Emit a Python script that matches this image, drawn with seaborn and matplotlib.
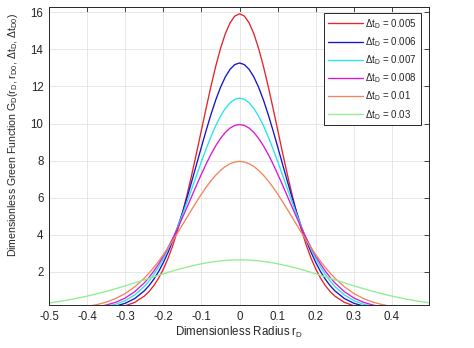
import numpy as np
import pandas as pd
import matplotlib
matplotlib.use("Agg")
import matplotlib.pyplot as plt
import seaborn as sns

# ---------------- data ----------------
r_D = [-0.5, -0.475, -0.45, -0.425, -0.4, -0.375, -0.35, -0.325, -0.3, -0.275,
       -0.25, -0.2375, -0.225, -0.2125, -0.2, -0.1875, -0.175, -0.1625, -0.15, -0.1375,
       -0.125, -0.1125, -0.1, -0.0875, -0.075, -0.0625, -0.05, -0.0375, -0.025, -0.0125,
       0.0,
       0.0125, 0.025, 0.0375, 0.05, 0.0625, 0.075, 0.0875, 0.1, 0.1125, 0.125,
       0.1375, 0.15, 0.1625, 0.175, 0.1875, 0.2, 0.2125, 0.225, 0.2375, 0.25,
       0.275, 0.3, 0.325, 0.35, 0.375, 0.4, 0.425, 0.45, 0.475, 0.5]

g_0005 = [0.0, 0.0, 0.0, 0.002, 0.005, 0.014, 0.035, 0.081, 0.177, 0.363,
          0.699, 0.948, 1.266, 1.664, 2.154, 2.744, 3.442, 4.250, 5.167, 6.184,
          7.286, 8.452, 9.653, 10.853, 12.013, 13.091, 14.045, 14.834, 15.425, 15.791,
          15.915,
          15.791, 15.425, 14.834, 14.045, 13.091, 12.013, 10.853, 9.653, 8.452, 7.286,
          6.184, 5.167, 4.250, 3.442, 2.744, 2.154, 1.664, 1.266, 0.948, 0.699,
          0.363, 0.177, 0.081, 0.035, 0.014, 0.005, 0.002, 0.0, 0.0, 0.0]

g_0006 = [0.0, 0.001, 0.003, 0.007, 0.017, 0.038, 0.081, 0.163, 0.312, 0.568,
          0.981, 1.265, 1.609, 2.021, 2.505, 3.065, 3.702, 4.414, 5.194, 6.033,
          6.917, 7.827, 8.744, 9.640, 10.492, 11.271, 11.951, 12.508, 12.922, 13.177,
          13.263,
          13.177, 12.922, 12.508, 11.951, 11.271, 10.492, 9.640, 8.744, 7.827, 6.917,
          6.033, 5.194, 4.414, 3.702, 3.065, 2.505, 2.021, 1.609, 1.265, 0.981,
          0.568, 0.312, 0.163, 0.081, 0.038, 0.017, 0.007, 0.003, 0.001, 0.0]

g_0007 = [0.002, 0.004, 0.008, 0.018, 0.038, 0.075, 0.143, 0.261, 0.457, 0.763,
          1.220, 1.516, 1.864, 2.266, 2.724, 3.239, 3.808, 4.427, 5.090, 5.787,
          6.506, 7.234, 7.954, 8.648, 9.299, 9.888, 10.397, 10.811, 11.117, 11.305,
          11.368,
          11.305, 11.117, 10.811, 10.397, 9.888, 9.299, 8.648, 7.954, 7.234, 6.506,
          5.787, 5.090, 4.427, 3.808, 3.239, 2.724, 2.266, 1.864, 1.516, 1.220,
          0.763, 0.457, 0.261, 0.143, 0.075, 0.038, 0.018, 0.008, 0.004, 0.002]

g_0008 = [0.004, 0.009, 0.018, 0.035, 0.067, 0.123, 0.216, 0.367, 0.597, 0.936,
          1.411, 1.707, 2.045, 2.426, 2.850, 3.316, 3.820, 4.358, 4.924, 5.509,
          6.104, 6.698, 7.277, 7.830, 8.344, 8.804, 9.199, 9.519, 9.755, 9.899,
          9.947,
          9.899, 9.755, 9.519, 9.199, 8.804, 8.344, 7.830, 7.277, 6.698, 6.104,
          5.509, 4.924, 4.358, 3.820, 3.316, 2.850, 2.426, 2.045, 1.707, 1.411,
          0.936, 0.597, 0.367, 0.216, 0.123, 0.067, 0.035, 0.018, 0.009, 0.004]

g_001 = [0.015, 0.028, 0.050, 0.087, 0.146, 0.237, 0.372, 0.568, 0.839, 1.202,
         1.668, 1.943, 2.245, 2.573, 2.928, 3.304, 3.701, 4.112, 4.534, 4.961,
         5.385, 5.799, 6.198, 6.572, 6.914, 7.218, 7.476, 7.683, 7.835, 7.927,
         7.958,
         7.927, 7.835, 7.683, 7.476, 7.218, 6.914, 6.572, 6.198, 5.799, 5.385,
         4.961, 4.534, 4.112, 3.701, 3.304, 2.928, 2.573, 2.245, 1.943, 1.668,
         1.202, 0.839, 0.568, 0.372, 0.237, 0.146, 0.087, 0.050, 0.028, 0.015]

g_003 = [0.330, 0.405, 0.491, 0.589, 0.699, 0.822, 0.956, 1.100, 1.253, 1.413,
         1.576, 1.658, 1.740, 1.821, 1.901, 1.979, 2.055, 2.129, 2.200, 2.266,
         2.329, 2.387, 2.441, 2.489, 2.532, 2.568, 2.598, 2.622, 2.639, 2.650,
         2.653,
         2.650, 2.639, 2.622, 2.598, 2.568, 2.532, 2.489, 2.441, 2.387, 2.329,
         2.266, 2.200, 2.129, 2.055, 1.979, 1.901, 1.821, 1.740, 1.658, 1.576,
         1.413, 1.253, 1.100, 0.956, 0.822, 0.699, 0.589, 0.491, 0.405, 0.330]

series_labels = [r"$\Delta\mathregular{t_D}$ = 0.005",
                 r"$\Delta\mathregular{t_D}$ = 0.006",
                 r"$\Delta\mathregular{t_D}$ = 0.007",
                 r"$\Delta\mathregular{t_D}$ = 0.008",
                 r"$\Delta\mathregular{t_D}$ = 0.01",
                 r"$\Delta\mathregular{t_D}$ = 0.03"]
series_values = [g_0005, g_0006, g_0007, g_0008, g_001, g_003]

x_ticks = [-0.5, -0.4, -0.3, -0.2, -0.1, 0.0, 0.1, 0.2, 0.3, 0.4]
x_tick_labels = ["-0.5", "-0.4", "-0.3", "-0.2", "-0.1", "0", "0.1", "0.2", "0.3", "0.4"]
y_ticks = [2, 4, 6, 8, 10, 12, 14, 16]

colors = ["#e8232a", "#1414c8", "#22e6ee", "#dc16dc", "#f5845a", "#90ee90"]

# ---------------- long table ----------------
rows = []
for lab, vals in zip(series_labels, series_values):
    for x, y in zip(r_D, vals):
        rows.append((lab, x, y))
df = pd.DataFrame(rows, columns=["series", "r", "G"])

# ---------------- style ----------------
sns.set_theme(style="white")
plt.rcParams["font.family"] = ["Liberation Sans", "DejaVu Sans"]
plt.rcParams["mathtext.fontset"] = "custom"
plt.rcParams["mathtext.rm"] = "Liberation Sans"
plt.rcParams["mathtext.it"] = "Liberation Sans:italic"
plt.rcParams["mathtext.bf"] = "Liberation Sans:bold"
plt.rcParams["axes.unicode_minus"] = False

fig = plt.figure(figsize=(4.74, 3.48), dpi=100)
ax = fig.add_axes([49 / 474, 1 - 305 / 348, (429 - 49) / 474, (305 - 7) / 348])
ax.set_facecolor("white")

sns.lineplot(data=df, x="r", y="G", hue="series", palette=colors,
             hue_order=series_labels, estimator=None, sort=False,
             linewidth=0.95, ax=ax, legend=True)

ax.set_xlim(-0.5, 0.497)
ax.set_ylim(0.22, 16.28)
ax.set_xticks(x_ticks)
ax.set_xticklabels(x_tick_labels)
ax.set_yticks(y_ticks)
ax.grid(True, color="#e3e3e3", linewidth=0.6)
ax.set_axisbelow(True)

for sp in ax.spines.values():
    sp.set_color("#262626")
    sp.set_linewidth(0.7)

ax.tick_params(axis="both", which="both", direction="in", length=3.5, width=0.6,
               top=True, right=True, labelsize=8.3, colors="#262626", pad=4)
for lbl in ax.get_xticklabels() + ax.get_yticklabels():
    lbl.set_color("#262626")

ax.set_xlabel(r"Dimensionless Radius r$\mathregular{_D}$", fontsize=8.3,
              color="#262626", labelpad=2)
ax.set_ylabel(r"Dimensionless Green Function G$\mathregular{_D}$(r$\mathregular{_D}$, "
              r"r$\mathregular{_{D0}}$, $\Delta$t$\mathregular{_D}$, $\Delta$t$\mathregular{_{D0}}$)",
              fontsize=7.6, color="#262626")
ax.yaxis.set_label_coords(-(49 - 20) / 380, (305 - 134.5) / 298)

handles, labels = ax.get_legend_handles_labels()
leg = ax.legend(handles, labels, loc="upper right",
                bbox_to_anchor=((421 - 49) / 380, 1 - 6 / 298),
                fontsize=7.0, frameon=True, fancybox=False, framealpha=1,
                edgecolor="#262626", handlelength=3.6, handletextpad=0.3,
                borderpad=0.4, labelspacing=0.45, borderaxespad=0.0)
leg.get_frame().set_linewidth(0.7)
for t in leg.get_texts():
    t.set_color("#262626")

fig.savefig("out.png", dpi=100, facecolor="white")
